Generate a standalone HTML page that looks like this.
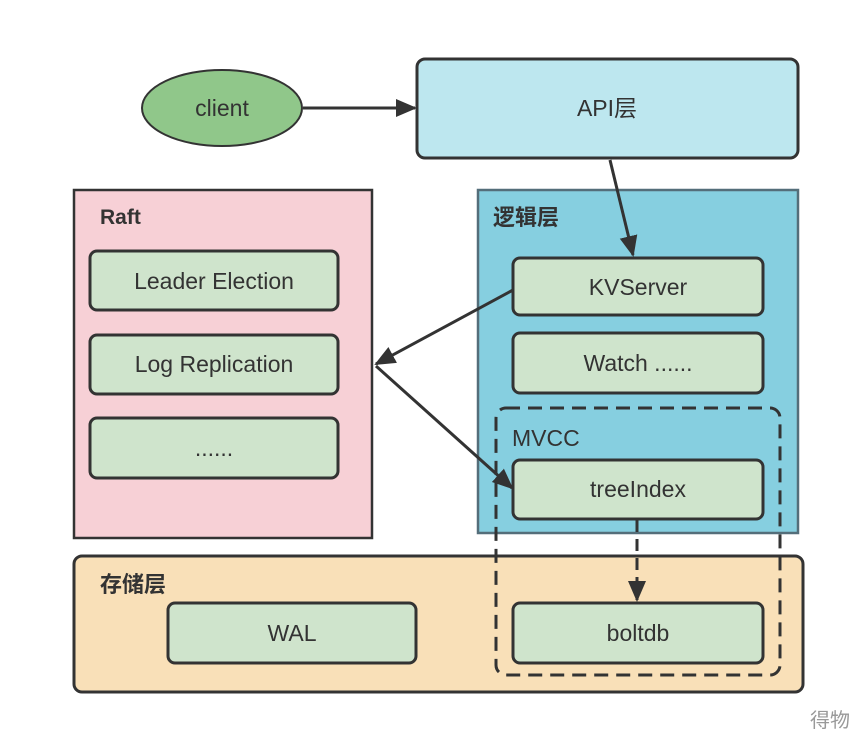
<!DOCTYPE html>
<html><head><meta charset="utf-8"><style>
html,body{margin:0;padding:0;background:#fff}
svg{display:block}
text{font-family:"Liberation Sans","Noto Sans CJK SC",sans-serif;fill:#333}
</style></head><body>
<svg width="866" height="740" viewBox="0 0 866 740" xmlns="http://www.w3.org/2000/svg">
<defs>
<marker id="b" markerWidth="22" markerHeight="22" refX="19" refY="11" orient="auto" markerUnits="userSpaceOnUse" viewBox="0 0 22 22">
<path d="M0,2 L21,11 L0,20 z" fill="#333"/></marker>
</defs>
<ellipse cx="222" cy="108" rx="80" ry="38" fill="#90c78a" stroke="#333" stroke-width="2"/>
<text x="222" y="116" font-size="23" text-anchor="middle">client</text>
<rect x="417" y="59" width="381" height="99" rx="8" fill="#bde7ef" stroke="#333" stroke-width="3"/>
<text x="607" y="116" font-size="23" text-anchor="middle">API层</text>
<rect x="74" y="190" width="298" height="348" fill="#f7d0d6" stroke="#333" stroke-width="2.5"/>
<text x="100" y="224" font-size="21" font-weight="bold">Raft</text>
<rect x="478" y="190" width="320" height="343" fill="#86cfe0" stroke="#546e7a" stroke-width="2.5"/>
<text x="493" y="225" font-size="22" font-weight="bold">逻辑层</text>
<rect x="74" y="556" width="729" height="136" rx="8" fill="#f9e0b8" stroke="#333" stroke-width="3"/>
<text x="100" y="592" font-size="22" font-weight="bold">存储层</text>
<g fill="#cfe4cc" stroke="#333" stroke-width="3">
<rect x="90" y="251" width="248" height="59" rx="7"/>
<rect x="90" y="335" width="248" height="59" rx="7"/>
<rect x="90" y="418" width="248" height="60" rx="7"/>
<rect x="513" y="258" width="250" height="57" rx="7"/>
<rect x="513" y="333" width="250" height="60" rx="7"/>
<rect x="513" y="460" width="250" height="59" rx="7"/>
<rect x="168" y="603" width="248" height="60" rx="7"/>
<rect x="513" y="603" width="250" height="60" rx="7"/>
</g>
<rect x="496" y="408" width="284" height="267" rx="10" fill="none" stroke="#333" stroke-width="3" stroke-dasharray="14,8"/>
<text x="512" y="446" font-size="23">MVCC</text>
<g font-size="23" text-anchor="middle">
<text x="214" y="289">Leader Election</text>
<text x="214" y="372">Log Replication</text>
<text x="214" y="456">......</text>
<text x="638" y="295">KVServer</text>
<text x="638" y="371">Watch ......</text>
<text x="638" y="497">treeIndex</text>
<text x="292" y="641">WAL</text>
<text x="638" y="641">boltdb</text>
</g>
<g stroke="#333" stroke-width="3" fill="none">
<line x1="303" y1="108" x2="415" y2="108" marker-end="url(#b)"/>
<line x1="610" y1="160" x2="633" y2="255" marker-end="url(#b)"/>
<line x1="513" y1="290" x2="376" y2="364" marker-end="url(#b)"/>
<line x1="376" y1="366" x2="512" y2="488" marker-end="url(#b)"/>
<line x1="637" y1="520" x2="637" y2="600" stroke-dasharray="12,7" marker-end="url(#b)"/>
</g>
<text x="810" y="727" font-size="20" style="fill:#999">得物</text>
</svg>
</body></html>
